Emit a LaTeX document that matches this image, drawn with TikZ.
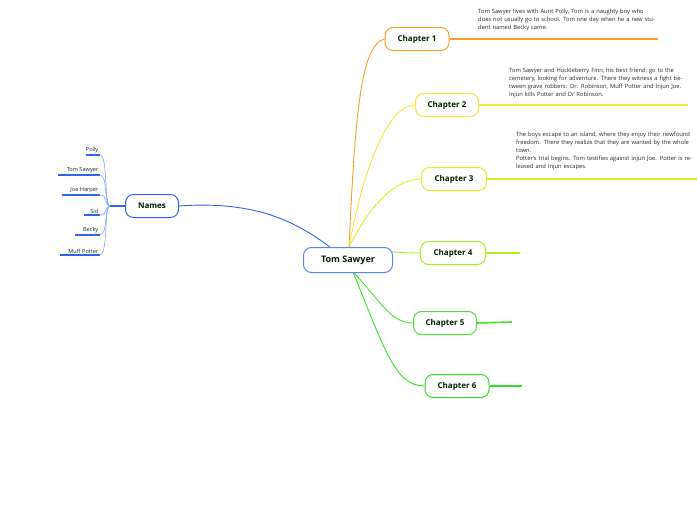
\documentclass[tikz,border=0pt]{standalone}
\usepackage{fontspec}
\setmainfont{Open Sans}
\begin{document}
\begin{tikzpicture}[x=1pt,y=-1pt,
 topic/.style={draw=#1,line width=1pt,rounded corners=8pt,fill=white,text=black!70!green!40!black,font=\bfseries\fontsize{8}{9}\selectfont,minimum height=23pt,inner sep=0pt},
 desc/.style={font=\fontsize{5.8}{8}\selectfont,text=black!85,align=left,anchor=north west,inner sep=0pt,text width=#1},
 leaf/.style={font=\fontsize{5.6}{6}\selectfont,text=black!85,anchor=south east,inner sep=1.5pt},
 con/.style={draw=#1,line width=0.9pt},
 bar/.style={draw=#1,line width=1.6pt}]
\useasboundingbox (0,0) rectangle (697,520);
\definecolor{c1}{HTML}{F7A028}\definecolor{c2}{HTML}{F5E63A}\definecolor{c3}{HTML}{D8F028}
\definecolor{c4}{HTML}{A8EE20}\definecolor{c5}{HTML}{48E030}\definecolor{c6}{HTML}{38DC28}\definecolor{cb}{HTML}{2F66E8}
\coordinate (r0) at (349,247);
\coordinate (r1) at (353,272);
\node[topic=c1,minimum width=64pt] (ch1) at (417,39) {Chapter 1};
\node[topic=c2,minimum width=63pt] (ch2) at (447,105) {Chapter 2};
\node[topic=c3,minimum width=65pt] (ch3) at (454,179) {Chapter 3};
\node[topic=c4,minimum width=65pt] (ch4) at (453,253) {Chapter 4};
\node[topic=c5,minimum width=63pt] (ch5) at (445,323) {Chapter 5};
\node[topic=c6,minimum width=64pt] (ch6) at (457,386) {Chapter 6};
\node[topic=cb,minimum width=53pt] (names) at (152,206) {Names};
\draw[con=c1] (r0) .. controls (355,120) and (360,45) .. (ch1.west);
\draw[con=c2] (r0) .. controls (365,160) and (390,105) .. (ch2.west);
\draw[con=c3] (r0) .. controls (370,205) and (395,179) .. (ch3.west);
\draw[con=c4] (r0) .. controls (375,250) and (395,253) .. (ch4.west);
\draw[con=c5] (r1) .. controls (380,300) and (390,323) .. (ch5.west);
\draw[con=c6] (r1) .. controls (385,350) and (395,386) .. (ch6.west);
\draw[con=cb] (names.east) .. controls (260,200) and (300,225) .. (330,247);
\node[topic=cb!80,minimum width=89pt,font=\bfseries\fontsize{9}{10}\selectfont,minimum height=25pt] (root) at (348,260) {Tom Sawyer};
% descriptions
\draw[bar=c1] (ch1.east) -- (658,39);
\draw[bar=c2] (ch2.east) -- (688,105);
\draw[bar=c3] (ch3.east) -- (697,179);
\draw[bar=c4] (ch4.east) -- (520,253);
\draw[bar=c5] (ch5.east) -- (512,322);
\draw[bar=c6] (ch6.east) -- (522,386);
\node[desc=180pt] (d1) at (478,9) {Tom Sawyer lives with Aunt Polly, Tom is a naughty boy who does not usually go to school. Tom one day when he a new student named Becky came.};
\node[desc=178pt] (d2) at (509,68) {Tom Sawyer and Huckleberry Finn, his best friend, go to the cemetery, looking for adventure. There they witness a fight between grave robbers: Dr. Robinson, Muff Potter and Injun Joe. Injun kills Potter and Dr Robinson.};
\node[desc=182pt] (d3) at (516,132) {The boys escape to an island, where they enjoy their newfound freedom. There they realize that they are wanted by the whole town.\\Potter's trial begins. Tom testifies against Injun Joe. Potter is released and Injun escapes.};
% names leaves
\coordinate (nl) at (110,206);
\draw[cb,line width=1.4pt] (names.west) -- (nl);
\foreach \n/\t/\y/\x in {p/Polly/155/86, t/Tom Sawyer/175/58, j/Joe Harper/195/62, s/Sid/215/84, b/Becky/235/75, m/Muff Potter/255/60}{
 \coordinate (\n) at (100,\y);
 \node[leaf] (l\n) at (\n) {\t};
 \draw[cb,line width=1.4pt] (\x,\y) -- (\n);
 \draw[cb!60,line width=0.6pt] (nl) .. controls (104,206) and (108,\y) .. (\n);
}
\end{tikzpicture}
\end{document}
